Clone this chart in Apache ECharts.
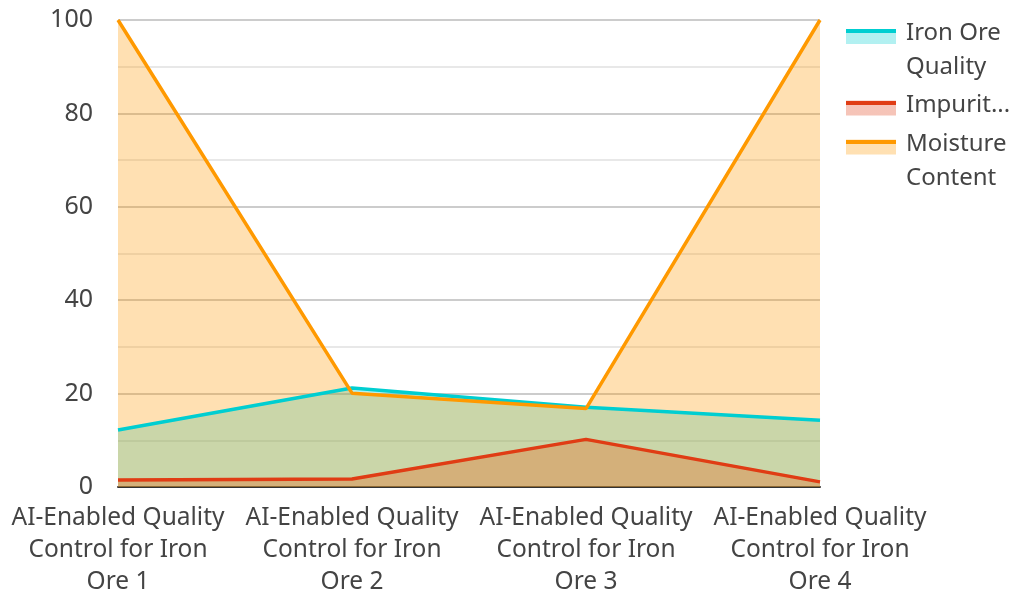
<!DOCTYPE html>
<html>
<head>
<meta charset="utf-8">
<script src="https://cdn.jsdelivr.net/npm/echarts@6/dist/echarts.min.js"></script>
<style>html,body{margin:0;padding:0;background:#fff}#chart{width:1012px;height:592px}</style>
</head>
<body>
<div id="chart"></div>
<script>
const categories = [
  'AI-Enabled Quality Control for Iron Ore 1',
  'AI-Enabled Quality Control for Iron Ore 2',
  'AI-Enabled Quality Control for Iron Ore 3',
  'AI-Enabled Quality Control for Iron Ore 4'
];
const seriesNames = ['Iron Ore Quality', 'Impurity Levels', 'Moisture Content'];
const ironOreQuality = [12.2, 21.2, 17.1, 14.3];
const impurityLevels = [1.5, 1.7, 10.2, 1.1];
const moistureContent = [100, 20.1, 16.8, 100];
const yTicks = [0, 20, 40, 60, 80, 100];

const colors = ['#00CED1', '#E03C14', '#FF9900'];
const pale = ['rgba(0,206,209,0.3)', 'rgba(224,60,20,0.3)', 'rgba(255,153,0,0.3)'];
const values = [ironOreQuality, impurityLevels, moistureContent];

const FONT = '"Noto Sans", sans-serif';
const TXT = '#444';
const X_FONT_SIZE = 24.5;

// greedy word wrap (no trailing spaces, so lines stay centred)
const measureCtx = document.createElement('canvas').getContext('2d');
function wrapText(text, maxW, fontSize) {
  measureCtx.font = fontSize + 'px "Noto Sans"';
  const words = text.split(' ');
  const lines = [];
  let cur = '';
  words.forEach(w => {
    const t = cur ? cur + ' ' + w : w;
    if (cur && measureCtx.measureText(t).width > maxW) { lines.push(cur); cur = w; }
    else cur = t;
  });
  if (cur) lines.push(cur);
  return lines.join('\n');
}

function iconGrad(i) {
  return new echarts.graphic.LinearGradient(0, 0, 0, 1, [
    {offset: 0, color: pale[i]}, {offset: 0.286, color: pale[i]},
    {offset: 0.286, color: colors[i]}, {offset: 0.48, color: colors[i]},
    {offset: 0.48, color: pale[i]}, {offset: 1, color: pale[i]}
  ]);
}

function makeLegend(i, top, twoLine) {
  const ts = {fontFamily: FONT, fontSize: 24, color: TXT, lineHeight: 34, width: 108,
    padding: [0, 0, 0, 5], overflow: twoLine ? 'break' : 'truncate'};
  return {
    left: 846, top: top, orient: 'vertical', padding: 0,
    itemWidth: 50, itemHeight: 21,
    icon: 'path://M0,0L0,0M0,6L50,6L50,21L0,21Z',
    formatter: name => (twoLine ? '\n' + name : name),
    data: [{name: seriesNames[i], itemStyle: {color: iconGrad(i), borderWidth: 0}}],
    textStyle: ts
  };
}

const chart = echarts.init(document.getElementById('chart'));
chart.setOption({
  animation: false,
  color: colors,
  grid: {left: 118, right: 192, top: 20, bottom: 105, outerBoundsMode: 'none', containLabel: false},
  legend: [makeLegend(0, -17.5, true), makeLegend(1, 88, false), makeLegend(2, 93, true)],
  xAxis: {
    type: 'category', data: categories, boundaryGap: false,
    axisLine: {lineStyle: {color: '#333', width: 2}},
    axisTick: {show: false},
    axisLabel: {fontFamily: FONT, fontSize: X_FONT_SIZE, color: TXT, lineHeight: 32, margin: 15,
      interval: 0, formatter: v => wrapText(v, 222, X_FONT_SIZE)}
  },
  yAxis: {
    type: 'value', min: yTicks[0], max: yTicks[yTicks.length - 1], interval: 20,
    axisLine: {show: false}, axisTick: {show: false},
    axisLabel: {fontFamily: FONT, fontSize: 25, color: TXT, margin: 25, padding: [4, 0, 0, 0]},
    splitLine: {lineStyle: {color: '#cccccc', width: 2}},
    minorTick: {show: false, splitNumber: 2},
    minorSplitLine: {show: true, lineStyle: {color: '#e8e8e8', width: 2}}
  },
  series: values.map((v, i) => ({
    name: seriesNames[i], type: 'line', data: v, symbol: 'none',
    lineStyle: {width: 3.5, color: colors[i]},
    areaStyle: {color: pale[i], opacity: 1}
  }))
});
</script>
</body>
</html>
